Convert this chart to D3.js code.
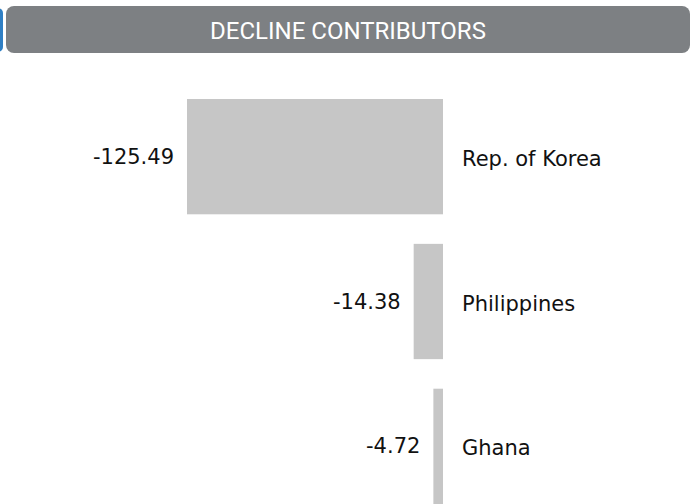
<!DOCTYPE html>
<html>
<head>
<meta charset="utf-8">
<script src="https://cdn.jsdelivr.net/npm/d3@7"></script>
<style>
  html, body { margin: 0; padding: 0; background: #fff; }
  svg { display: block; }
</style>
</head>
<body>
<svg id="chart" width="696" height="504"></svg>
<script>
// Decline contributors: country and change value
const countries = ["Rep. of Korea", "Philippines", "Ghana"];
const values = [-125.49, -14.38, -4.72];
const title = "DECLINE CONTRIBUTORS";

const W = 696, H = 504;
const svg = d3.select("#chart");

// Header panel
svg.append("rect")
  .attr("x", -12).attr("y", 8).attr("width", 15).attr("height", 44)
  .attr("rx", 5).attr("fill", "#2f7fc4");
svg.append("rect")
  .attr("x", 6).attr("y", 6).attr("width", 684).attr("height", 47)
  .attr("rx", 8).attr("fill", "#7d8083");
svg.append("text")
  .attr("x", 348).attr("y", 31)
  .attr("text-anchor", "middle").attr("dominant-baseline", "central")
  .attr("font-family", "Roboto, sans-serif").attr("font-size", 24)
  .attr("fill", "#ffffff")
  .text(title);

// Scales
const zeroX = 443;
const x = d3.scaleLinear().domain([-125.49, 0]).range([187, zeroX]);
const y = d3.scaleBand().domain(countries).range([99, 504]).paddingInner(0.204).paddingOuter(0);

const data = countries.map((c, i) => ({ country: c, value: values[i] }));
const fmt = v => d3.format(".2f")(v).replace("\u2212", "-");

const g = svg.append("g");

g.selectAll("rect.bar").data(data).join("rect")
  .attr("class", "bar")
  .attr("x", d => x(d.value))
  .attr("y", d => y(d.country))
  .attr("width", d => x(0) - x(d.value))
  .attr("height", y.bandwidth())
  .attr("fill", "#c6c6c6");

g.selectAll("text.val").data(data).join("text")
  .attr("class", "val")
  .attr("x", d => x(d.value) - 13)
  .attr("y", d => y(d.country) + y.bandwidth() / 2)
  .attr("text-anchor", "end").attr("dominant-baseline", "central")
  .attr("font-family", "DejaVu Sans, sans-serif").attr("font-size", 21)
  .attr("fill", "#111")
  .text(d => fmt(d.value));

g.selectAll("text.name").data(data).join("text")
  .attr("class", "name")
  .attr("x", x(0) + 19)
  .attr("y", d => y(d.country) + y.bandwidth() / 2 + 2)
  .attr("text-anchor", "start").attr("dominant-baseline", "central")
  .attr("font-family", "DejaVu Sans, sans-serif").attr("font-size", 21)
  .attr("fill", "#111")
  .text(d => d.country);
</script>
</body>
</html>
